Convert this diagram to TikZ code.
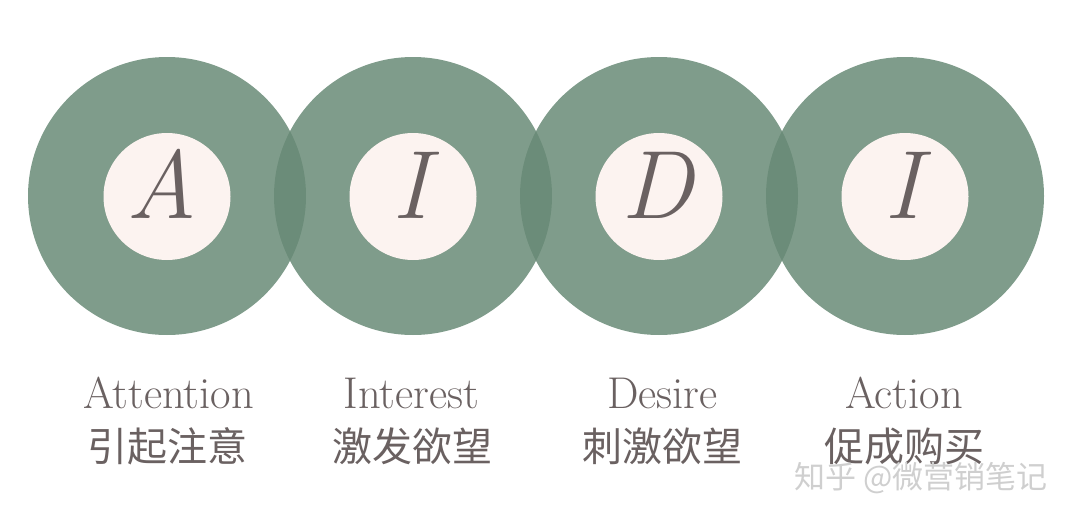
\documentclass[tikz,border=0pt]{standalone}
\usepackage{fontspec}
\newfontfamily\cjk{Noto Sans CJK SC}
\definecolor{ringgreen}{HTML}{678975}
\definecolor{corefill}{HTML}{FCF3F0}
\definecolor{inktext}{HTML}{6A6161}
\definecolor{wmark}{HTML}{CFCFCF}
\tikzset{
  ring/.style={circle, fill=ringgreen, fill opacity=0.84, minimum size=278pt, inner sep=0pt},
  core/.style={circle, fill=corefill, minimum size=127pt, inner sep=0pt},
  letter/.style={anchor=base, text=inktext, inner sep=0pt, font=\fontsize{97}{97}\selectfont\itshape},
  enlabel/.style={anchor=base, text=inktext, inner sep=0pt, font=\fontsize{44.5}{44.5}\selectfont},
  cnlabel/.style={text=inktext, inner sep=0pt, font=\cjk\fontsize{40}{40}\selectfont},
  watermark/.style={text=wmark, inner sep=0pt, font=\cjk\fontsize{31}{31}\selectfont}
}
\begin{document}
\begin{tikzpicture}[x=1pt,y=-1pt]
\useasboundingbox (0,0) rectangle (1080,522);
\foreach \n/\cx in {1/167,2/413,3/659,4/905}{
  \node[ring] (ring\n) at (\cx,196) {};
}
\foreach \n/\cx in {1/167,2/413,3/659,4/905}{
  \node[core] (core\n) at (\cx,196.5) {};
}
\node[letter] (la) at (162,218) {A};
\node[letter] (li) at (411,218) {I};
\node[letter] (ld) at (657,218) {D};
\node[letter] (li2) at (903,218) {I};
\node[enlabel] (en1) at (168.5,408) {Attention};
\node[enlabel] (en2) at (411.5,408) {Interest};
\node[enlabel] (en3) at (662.5,408) {Desire};
\node[enlabel] (en4) at (904,408) {Action};
\node[cnlabel] (cn1) at (167,446) {引起注意};
\node[cnlabel] (cn2) at (412,446) {激发欲望};
\node[cnlabel] (cn3) at (662,446) {刺激欲望};
\node[cnlabel] (cn4) at (904,446) {促成购买};
\node[watermark] (wm) at (921,478) {知乎 @微营销笔记};
\end{tikzpicture}
\end{document}
